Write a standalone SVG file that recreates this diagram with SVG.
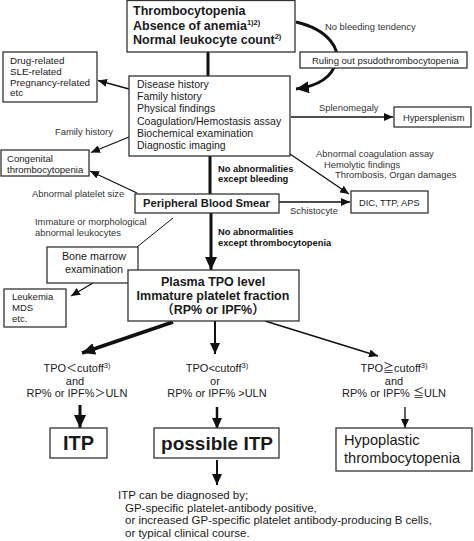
<svg xmlns="http://www.w3.org/2000/svg" width="474" height="541" viewBox="0 0 474 541">
<defs>
<marker id="ah-s" markerUnits="userSpaceOnUse" markerWidth="10" markerHeight="8" refX="9" refY="4" orient="auto"><path d="M0,0 L9,4 L0,8 z" fill="#111"/></marker>
<marker id="ah-m" markerUnits="userSpaceOnUse" markerWidth="12" markerHeight="10" refX="11" refY="5" orient="auto"><path d="M0,0 L11,5 L0,10 z" fill="#111"/></marker>
<marker id="ah-l" markerUnits="userSpaceOnUse" markerWidth="14" markerHeight="12" refX="13" refY="6" orient="auto"><path d="M0,0 L13,6 L0,12 z" fill="#111"/></marker>
</defs>
<style>
.box{fill:#fff;stroke:#333;stroke-width:1.3}
.t{font-family:"Liberation Sans","Noto Sans CJK JP",sans-serif;fill:#1a1a1a}
.b{font-weight:bold}
.lbl{font-size:9.4px;fill:#333}
.c{fill:none;stroke:#111}
.sup{font-size:7.5px}
</style>
<rect width="474" height="541" fill="#fff"/>
<g id="connectors">
<line class="c" x1="208" y1="52" x2="208" y2="76" stroke-width="3"/>
<line class="c" x1="210" y1="156" x2="210" y2="194" stroke-width="3"/>
<line class="c" x1="211" y1="213" x2="211" y2="270" stroke-width="3" marker-end="url(#ah-l)"/>
<path class="c" d="M296,22 C330,30 340,50 336,62 C332,78 318,86 296,89" stroke-width="3" marker-end="url(#ah-l)"/>
<line class="c" x1="129" y1="89" x2="98" y2="80.5" stroke-width="1.3" marker-end="url(#ah-s)"/>
<line class="c" x1="129" y1="137" x2="91" y2="152.5" stroke-width="1.3" marker-end="url(#ah-s)"/>
<line class="c" x1="137" y1="193" x2="90" y2="171" stroke-width="1.3" marker-end="url(#ah-s)"/>
<line class="c" x1="173" y1="218" x2="137" y2="247" stroke-width="1"/>
<line class="c" x1="93" y1="283" x2="71" y2="296" stroke-width="1.3" marker-end="url(#ah-s)"/>
<line class="c" x1="291" y1="117" x2="393" y2="117" stroke-width="1.3" marker-end="url(#ah-s)"/>
<line class="c" x1="290" y1="154" x2="349" y2="194" stroke-width="1.3" marker-end="url(#ah-s)"/>
<line class="c" x1="279" y1="202" x2="350" y2="202" stroke-width="1.3" marker-end="url(#ah-s)"/>
<line class="c" x1="173" y1="322" x2="82" y2="353" stroke-width="3.5" marker-end="url(#ah-l)"/>
<line class="c" x1="215" y1="321" x2="215" y2="354" stroke-width="2" marker-end="url(#ah-m)"/>
<line class="c" x1="265" y1="321" x2="378" y2="356" stroke-width="1.5" marker-end="url(#ah-s)"/>
<line class="c" x1="80" y1="405" x2="80" y2="428" stroke-width="3" marker-end="url(#ah-l)"/>
<line class="c" x1="217" y1="407" x2="217" y2="429" stroke-width="2.5" marker-end="url(#ah-m)"/>
<line class="c" x1="405" y1="407" x2="405" y2="428" stroke-width="1.3" marker-end="url(#ah-s)"/>
<line class="c" x1="217" y1="460" x2="217" y2="485" stroke-width="2" marker-end="url(#ah-m)"/>
</g>
<g id="labels" class="t lbl">
<text x="325" y="30">No bleeding tendency</text>
<text x="55" y="135">Family history</text>
<text x="32" y="197">Abnormal platelet size</text>
<text x="35" y="225">Immature or morphological</text>
<text x="35" y="236">abnormal leukocytes</text>
<text x="319" y="111">Splenomegaly</text>
<text x="316" y="157">Abnormal coagulation assay</text>
<text x="324" y="168">Hemolytic findings</text>
<text x="335" y="178">Thrombosis, Organ damages</text>
<text x="290" y="214">Schistocyte</text>
<text class="b" x="218" y="172" style="font-size:9.3px;fill:#111">No abnormalities</text>
<text class="b" x="218" y="182" style="font-size:9.3px;fill:#111">except bleeding</text>
<text class="b" x="218" y="235" style="font-size:9.3px;fill:#111">No abnormalities</text>
<text class="b" x="218" y="246" style="font-size:9.3px;fill:#111">except thrombocytopenia</text>
</g>
<g id="n-top">
<rect class="box" x="127" y="0.5" width="168" height="51.5"/>
<text class="t b" x="133" y="14.5" font-size="12.5">Thrombocytopenia</text>
<text class="t b" x="133" y="29.5" font-size="12.5">Absence of anemia<tspan class="sup" dy="-5">1)2)</tspan></text>
<text class="t b" x="133" y="44" font-size="12.5">Normal leukocyte count<tspan class="sup" dy="-5">2)</tspan></text>
</g>
<g id="n-ruling">
<rect class="box" x="300" y="52" width="167" height="16"/>
<text class="t" x="312" y="63.5" font-size="9.5">Ruling out psudothrombocytopenia</text>
</g>
<g id="n-drug">
<rect class="box" x="3" y="52" width="94" height="50"/>
<text class="t" font-size="9.8"><tspan x="10" y="64">Drug-related</tspan><tspan x="10" y="75">SLE-related</tspan><tspan x="10" y="85.5">Pregnancy-related</tspan><tspan x="10" y="96">etc</tspan></text>
</g>
<g id="n-disease">
<rect class="box" x="129" y="76" width="161" height="80"/>
<text class="t" font-size="10.5"><tspan x="137" y="88">Disease history</tspan><tspan x="137" y="100.2">Family history</tspan><tspan x="137" y="112.4">Physical findings</tspan><tspan x="137" y="124.6">Coagulation/Hemostasis assay</tspan><tspan x="137" y="136.8">Biochemical examination</tspan><tspan x="137" y="149">Diagnostic imaging</tspan></text>
</g>
<g id="n-hyper">
<rect class="box" x="394" y="107" width="77" height="20"/>
<text class="t" x="403" y="121" font-size="9.3">Hypersplenism</text>
</g>
<g id="n-congenital">
<rect class="box" x="1" y="150" width="88" height="26"/>
<text class="t" font-size="9.6"><tspan x="7" y="162">Congenital</tspan><tspan x="7" y="172.5">thrombocytopenia</tspan></text>
</g>
<g id="n-pbs">
<rect class="box" x="135" y="194" width="144" height="19"/>
<text class="t b" x="143" y="207" font-size="11.2">Peripheral Blood Smear</text>
</g>
<g id="n-dic">
<rect class="box" x="351" y="191" width="77" height="22"/>
<text class="t" x="359" y="205.5" font-size="9.3">DIC, TTP, APS</text>
</g>
<g id="n-bone">
<rect class="box" x="47" y="247" width="91" height="36"/>
<text class="t" font-size="10.8" text-anchor="middle"><tspan x="94" y="260">Bone marrow</tspan><tspan x="94" y="273">examination</tspan></text>
</g>
<g id="n-leuk">
<rect class="box" x="4" y="289" width="62" height="38"/>
<text class="t" font-size="9.5"><tspan x="12" y="300">Leukemia</tspan><tspan x="12" y="311">MDS</tspan><tspan x="12" y="322">etc.</tspan></text>
</g>
<g id="n-plasma">
<rect class="box" x="128" y="270" width="171" height="51"/>
<text class="t b" font-size="12.5" text-anchor="middle"><tspan x="213" y="286">Plasma TPO level</tspan><tspan x="213" y="300">Immature platelet fraction</tspan><tspan x="213" y="314">（RP% or IPF%）</tspan></text>
</g>
<g id="n-cond-left">
<text class="t" font-size="11" text-anchor="middle"><tspan x="77" y="372">TPO＜cutoff<tspan class="sup" dy="-4">3)</tspan></tspan><tspan x="75" y="384.5">and</tspan><tspan x="77" y="397">RP% or IPF%＞ULN</tspan></text>
</g>
<g id="n-cond-mid">
<text class="t" font-size="11" text-anchor="middle"><tspan x="217" y="372">TPO&lt;cutoff<tspan class="sup" dy="-4">3)</tspan></tspan><tspan x="215" y="384.5">or</tspan><tspan x="217" y="397">RP% or IPF% &gt;ULN</tspan></text>
</g>
<g id="n-cond-right">
<text class="t" font-size="11" text-anchor="middle"><tspan x="394" y="372">TPO≧cutoff<tspan class="sup" dy="-4">3)</tspan></tspan><tspan x="394" y="384.5">and</tspan><tspan x="394" y="397">RP% or IPF% ≦ULN</tspan></text>
</g>
<g id="n-itp">
<rect class="box" x="50" y="428" width="57" height="30"/>
<text class="t b" x="78.5" y="450" font-size="20" text-anchor="middle">ITP</text>
</g>
<g id="n-possible">
<rect class="box" x="154" y="428" width="125" height="30"/>
<text class="t b" x="217" y="450" font-size="19" text-anchor="middle">possible ITP</text>
</g>
<g id="n-hypo">
<rect class="box" x="336" y="428" width="136" height="43"/>
<text class="t" font-size="14.6"><tspan x="344" y="445">Hypoplastic</tspan><tspan x="344" y="463">thrombocytopenia</tspan></text>
</g>
<g id="n-note">
<text class="t" font-size="11.5"><tspan x="118" y="499">ITP can be diagnosed by;</tspan><tspan x="125" y="511.5">GP-specific platelet-antibody positive,</tspan><tspan x="125" y="524">or increased GP-specific platelet antibody-producing B cells,</tspan><tspan x="125" y="536.5">or typical clinical course.</tspan></text>
</g>
</svg>
